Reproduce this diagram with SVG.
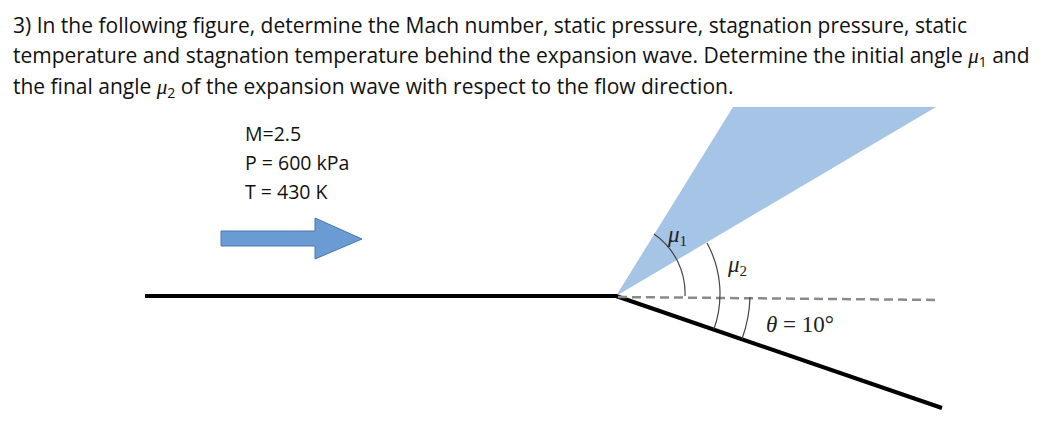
<svg xmlns="http://www.w3.org/2000/svg" width="1046" height="436" viewBox="0 0 1046 436">
<style>
.t{font-family:"Open Sans","Liberation Sans",sans-serif;font-size:21px;fill:#111}
.s{font-family:"Open Sans","Liberation Sans",sans-serif;font-size:19.5px;fill:#111}
.m{font-family:"Liberation Serif","DejaVu Serif",serif;font-size:23px;fill:#222}
.arc{fill:none;stroke:#444;stroke-width:1.2}
</style>
<rect width="1046" height="436" fill="#fff"/>
<g id="question">
<text class="t" x="13" y="33">3) In the following figure, determine the Mach number, static pressure, stagnation pressure, static</text>
<text class="t" x="13" y="63">temperature and stagnation temperature behind the expansion wave. Determine the initial angle <tspan font-family="Liberation Serif,serif" font-style="italic">μ</tspan><tspan font-size="14" dy="4">1</tspan><tspan dy="-4"> and</tspan></text>
<text class="t" x="13" y="94">the final angle <tspan font-family="Liberation Serif,serif" font-style="italic">μ</tspan><tspan font-size="14" dy="4">2</tspan><tspan dy="-4"> of the expansion wave with respect to the flow direction.</tspan></text>
</g>
<g id="conditions">
<text class="s" x="245" y="141">M=2.5</text>
<text class="s" x="245" y="170">P = 600 kPa</text>
<text class="s" x="245" y="199">T = 430 K</text>
</g>
<g id="fan"><polygon points="616,296 733,107 936,107" fill="#a6c4e6"/></g>
<g id="flow-arrow"><polygon points="221,231 315,231 315,218 362,239 315,259 315,246 221,246" fill="#6a9bd2" stroke="#4a78ad" stroke-width="1"/></g>
<g id="walls">
<line x1="145" y1="296" x2="617" y2="296" stroke="#000" stroke-width="4"/>
<line x1="616" y1="296" x2="942" y2="408" stroke="#000" stroke-width="4"/>
<line x1="618" y1="297" x2="940" y2="300" stroke="#8a8a8a" stroke-width="2.5" stroke-dasharray="9,5"/>
</g>
<g id="connectors">
<path class="arc" d="M654,234 A72,72 0 0 1 685,296"/>
<path class="arc" d="M707,243 A106,106 0 0 1 714,329"/>
<path class="arc" d="M750,297 A134,134 0 0 1 742,339"/>
</g>
<g id="labels">
<text class="m" x="668" y="242" font-style="italic">μ<tspan font-style="normal" font-size="15" dy="4">1</tspan></text>
<text class="m" x="728" y="272" font-style="italic">μ<tspan font-style="normal" font-size="15" dy="4">2</tspan></text>
<text class="m" x="766" y="332"><tspan font-style="italic">θ</tspan> = 10°</text>
</g>
</svg>
